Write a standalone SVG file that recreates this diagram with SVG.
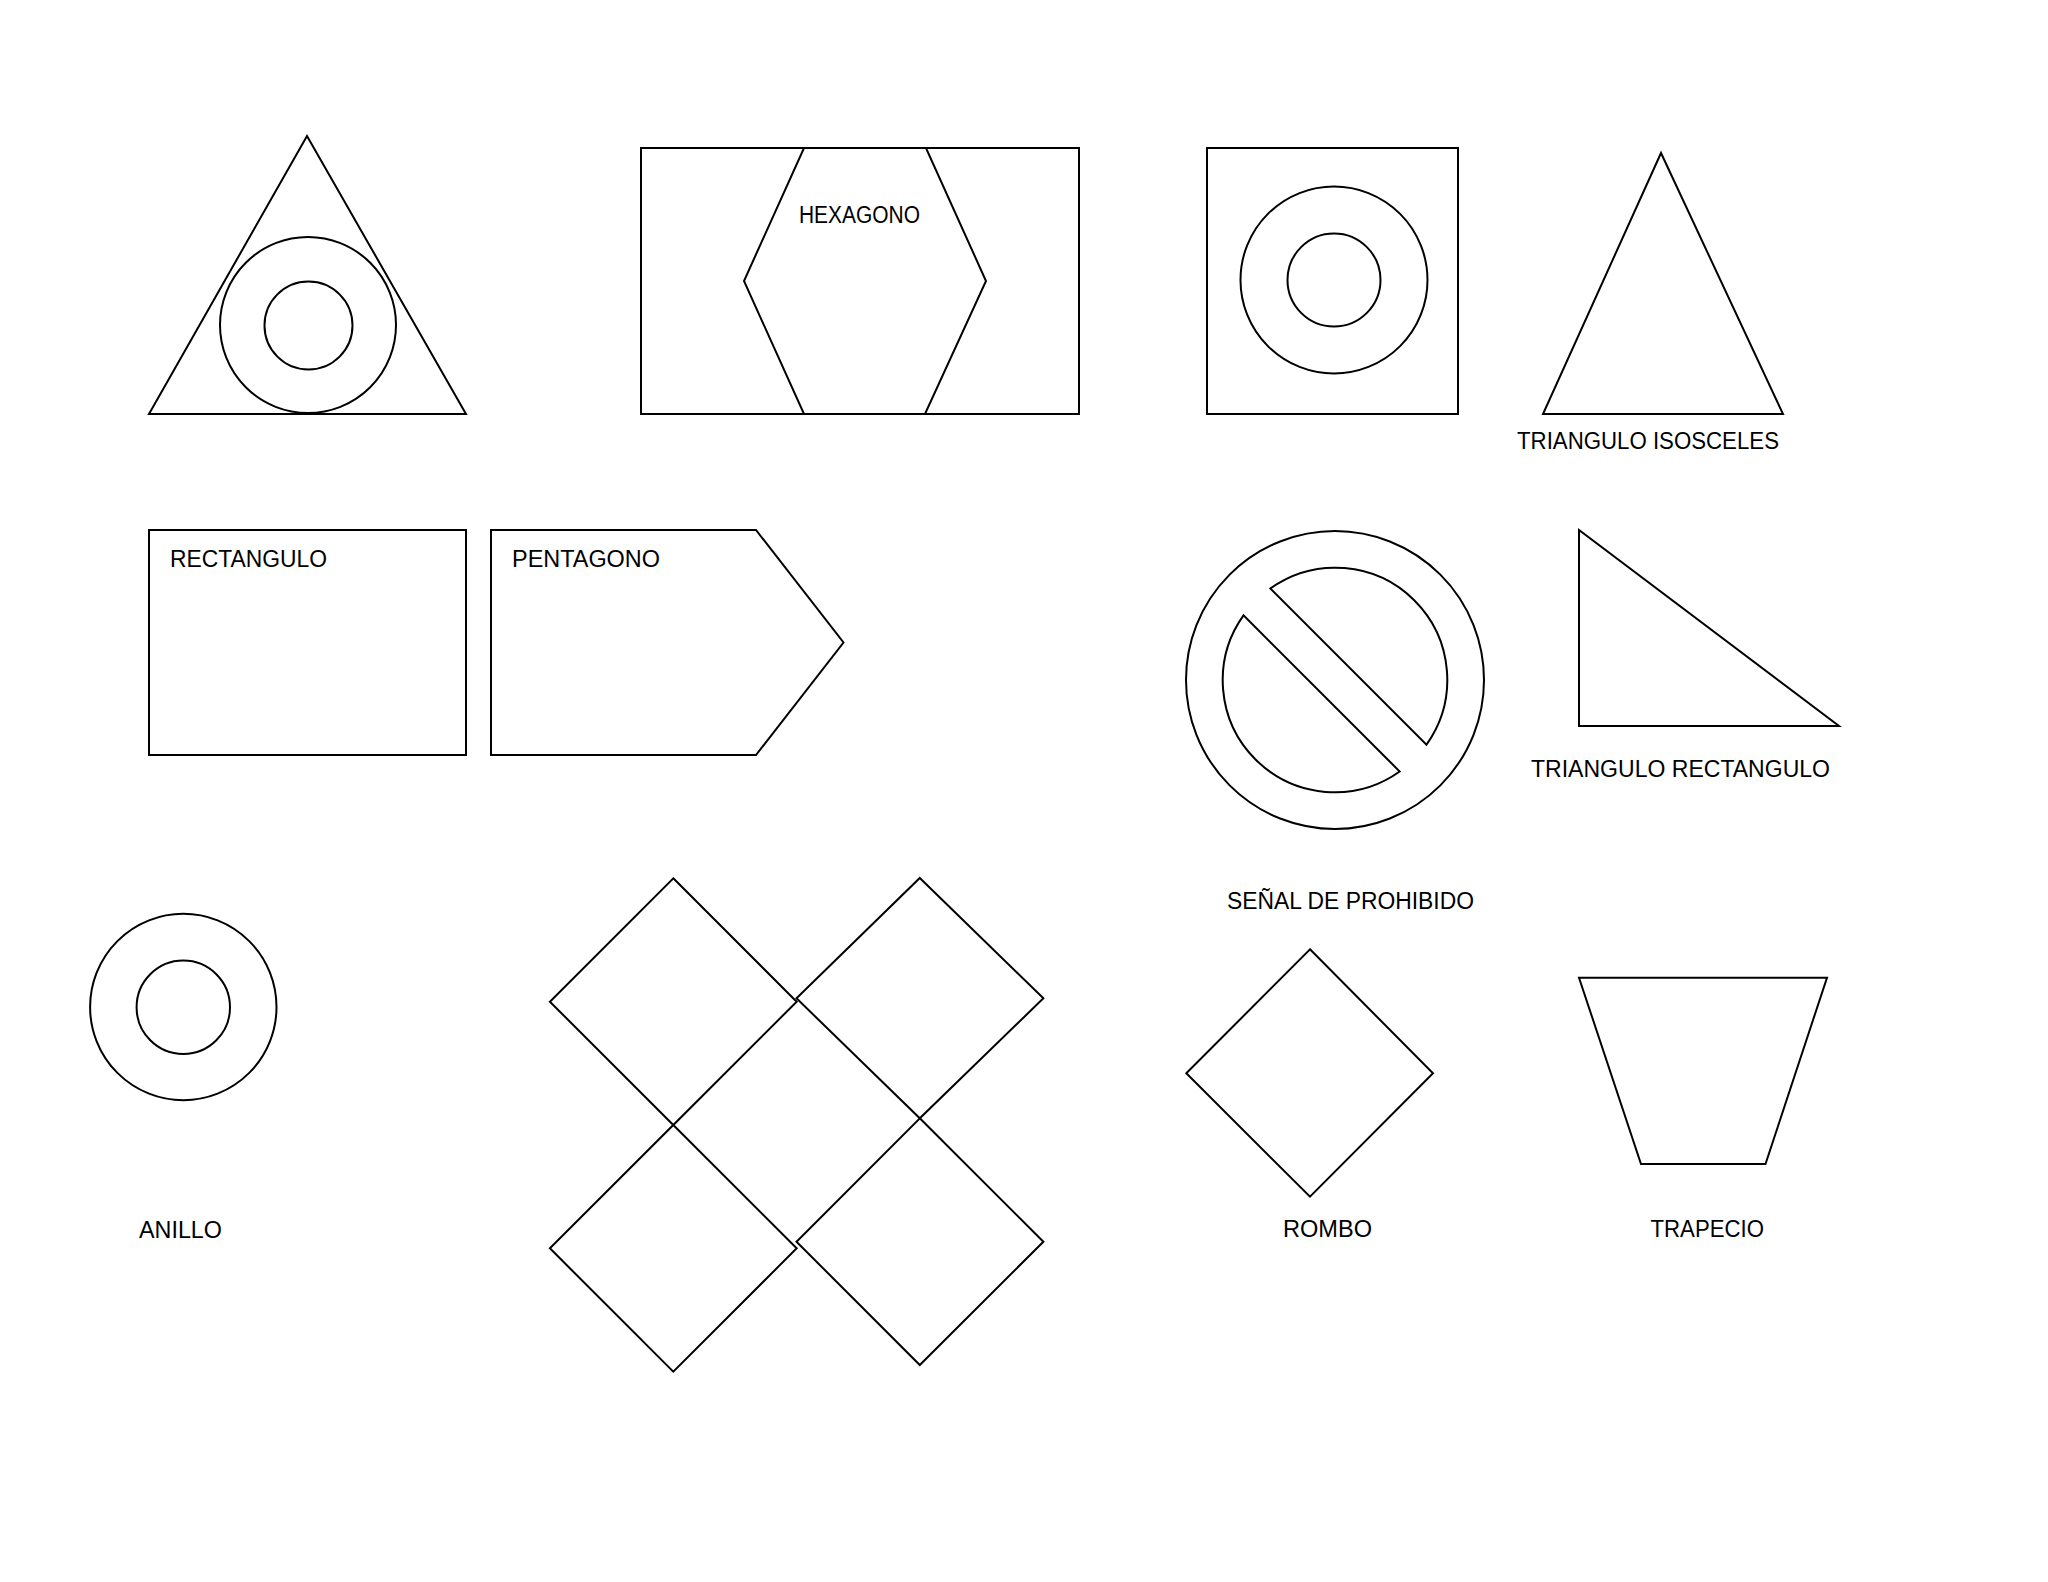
<svg xmlns="http://www.w3.org/2000/svg" width="2048" height="1582" viewBox="0 0 2048 1582">
<style>
.s{fill:none;stroke:#000;stroke-width:2;stroke-linejoin:miter}
.t{font-family:"Liberation Sans",Arial,sans-serif;font-size:23px;fill:#000}
</style>
<rect width="2048" height="1582" fill="#fff"/>
<g id="triangle-ring">
<polygon class="s" points="307,136 149,414 466,414"/>
<circle class="s" cx="308" cy="325" r="88"/>
<circle class="s" cx="308.5" cy="325.5" r="44"/>
</g>
<g id="hexagon">
<rect class="s" x="641" y="148" width="438" height="266"/>
<polygon class="s" points="804,148 926,148 986,281 925,414 804,414 744,281"/>
<text class="t" x="799" y="223" textLength="121" lengthAdjust="spacingAndGlyphs">HEXAGONO</text>
</g>
<g id="square-ring">
<rect class="s" x="1207" y="148" width="251" height="266"/>
<circle class="s" cx="1334" cy="280" r="93.5"/>
<circle class="s" cx="1334" cy="280" r="46.5"/>
</g>
<g id="isosceles">
<polygon class="s" points="1661,153 1543,414 1783,414"/>
<text class="t" x="1517" y="448.5" textLength="262" lengthAdjust="spacingAndGlyphs">TRIANGULO ISOSCELES</text>
</g>
<g id="rectangle">
<rect class="s" x="149" y="530" width="317" height="225"/>
<text class="t" x="170" y="567" textLength="157" lengthAdjust="spacingAndGlyphs">RECTANGULO</text>
</g>
<g id="pentagon">
<polygon class="s" points="491,530 756,530 843.5,642.5 756,755 491,755"/>
<text class="t" x="512" y="567" textLength="148" lengthAdjust="spacingAndGlyphs">PENTAGONO</text>
</g>
<g id="prohibido">
<circle class="s" cx="1335" cy="680" r="149"/>
<path class="s" d="M1270.3,588.5 A112,112 0 0 1 1426.5,744.7 Z"/>
<path class="s" d="M1243.5,615.3 A112,112 0 0 0 1399.7,771.5 Z"/>
<text class="t" x="1227" y="908.5" textLength="247" lengthAdjust="spacingAndGlyphs">SEÑAL DE PROHIBIDO</text>
</g>
<g id="right-triangle">
<polygon class="s" points="1579,530 1579,726 1839,726"/>
<text class="t" x="1531" y="777" textLength="299" lengthAdjust="spacingAndGlyphs">TRIANGULO RECTANGULO</text>
</g>
<g id="anillo">
<circle class="s" cx="183.3" cy="1007" r="93.2"/>
<circle class="s" cx="183.3" cy="1007.3" r="46.7"/>
<text class="t" x="139" y="1238" textLength="83" lengthAdjust="spacingAndGlyphs">ANILLO</text>
</g>
<g id="diamonds">
<polygon class="s" points="673.3,878.3 796.7,1001.7 673.3,1125 549.9,1001.7"/>
<polygon class="s" points="919.8,878 1043.4,998.3 919.8,1118.3 796.5,998.3"/>
<polygon class="s" points="673.3,1125 796.7,1248.3 673.3,1371.7 549.9,1248.3"/>
<polygon class="s" points="919.8,1118.3 1043.4,1241.7 919.8,1365 796.5,1241.7"/>
</g>
<g id="rombo">
<polygon class="s" points="1310,949.3 1433,1073.3 1310,1196.7 1186.3,1073.3"/>
<text class="t" x="1283" y="1237" textLength="89" lengthAdjust="spacingAndGlyphs">ROMBO</text>
</g>
<g id="trapecio">
<polygon class="s" points="1579,977.7 1827,977.7 1765.5,1164 1641,1164"/>
<text class="t" x="1650.5" y="1237" textLength="113.5" lengthAdjust="spacingAndGlyphs">TRAPECIO</text>
</g>
<g id="connectors"/>
</svg>
